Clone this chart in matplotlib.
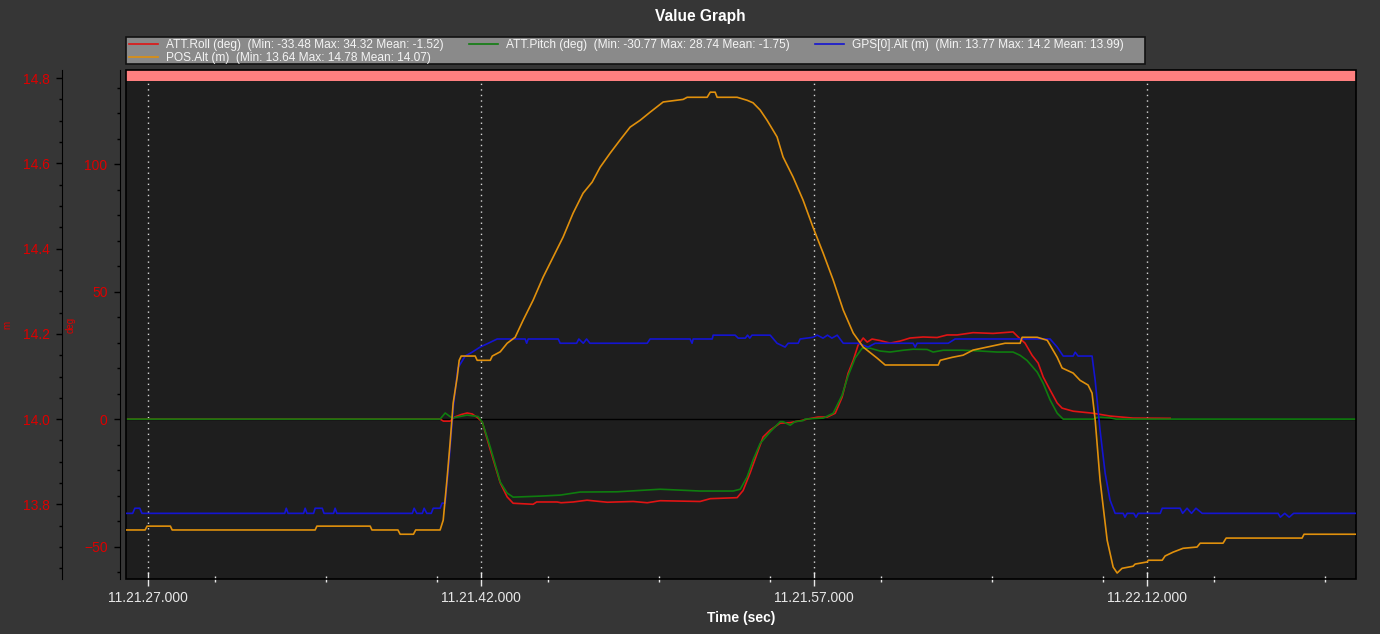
import matplotlib
matplotlib.use("Agg")
import matplotlib.pyplot as plt
from matplotlib.ticker import MultipleLocator, FuncFormatter
from matplotlib.patches import Rectangle

plt.rcParams['font.family'] = ['Liberation Sans', 'DejaVu Sans']

# ---- data (time in seconds after 11:21:00) ----
roll_t = [26.01, 40.15, 40.3, 40.6, 40.8, 41.1, 41.37, 41.6, 41.86, 42.05, 42.41, 42.86, 43.17, 43.44,
          44.34, 44.5, 45.42, 45.6, 46.14, 46.77, 47.68, 48.85, 49.48, 50.06, 51.86, 52.32, 53.53,
          53.80, 54.12, 54.43, 54.70, 55.02, 55.47, 55.92, 56.50, 56.68, 57.18, 57.59, 57.95, 58.26,
          58.53, 58.76, 58.98, 59.21, 59.39, 59.61, 59.97, 60.42, 60.87, 61.32, 61.91, 62.54, 62.99,
          63.44, 64.16, 65.06, 65.96, 66.19, 66.50, 66.82, 67.09, 67.32, 67.63, 67.95, 68.17, 68.67,
          69.57, 70.33, 71.37, 73.04]
roll_v = [0, 0, -0.8, -0.8, 0.8, 1.8, 2.4, 2.0, 0.4, -1.2, -12, -25, -30.5, -33,
          -33.4, -32.5, -32.5, -32.8, -32.5, -31.8, -32.6, -32.3, -32.8, -32.0, -32.3, -31.2, -30.8,
          -28, -21, -13.5, -7, -4.3, -1.6, -1.4, -0.4, 0, 0.8, 0.8, 2.3, 8.6,
          18, 23, 29, 31.8, 30.2, 31.4, 30.8, 29.8, 30.6, 31.8, 32.2, 32.0, 33.0,
          33.0, 33.9, 33.6, 34.2, 32.2, 29.8, 25, 22, 16.5, 11.4, 6.3, 4.3, 3.1,
          2.3, 1.2, 0.4, 0.3]

pitch_t = [26.01, 40.15, 40.38, 40.69, 40.92, 41.37, 41.86, 42.05, 42.41, 42.86, 43.17, 43.44, 44.66,
           45.56, 46.46, 48.13, 50.06, 51.86, 53.35, 53.67, 53.98, 54.25, 54.57, 55.02, 55.47, 55.60,
           55.92, 56.14, 56.50, 56.59, 57.41, 57.86, 58.26, 58.53, 58.85, 59.16, 59.52, 59.97, 60.42,
           61.01, 61.46, 62.09, 62.36, 62.81, 63.71, 64.48, 65.24, 65.96, 66.28, 66.59, 67.05, 67.32,
           67.63, 67.95, 68.17, 68.22, 69.57, 69.8, 70.33, 70.6, 81.41]
pitch_v = [0, 0, 2.4, 0.4, 0.8, 1.6, 1.0, -1.2, -11, -24.7, -29, -30.6, -30.2,
           -29.8, -28.6, -28.5, -27.5, -28.2, -28.2, -27.5, -22.7, -16, -9.5, -5, -1, -1,
           -2.4, -1.0, -0.6, 0, 0.4, 2.3, 9.4, 17, 24, 27.8, 27.8, 26.7, 26.3,
           27, 27.4, 27.3, 26.3, 27, 27, 26.7, 26.3, 26.3, 25, 23, 18.4, 14,
           7.5, 2.3, 0.4, 0, 0, 0.8, 0.5, 0, 0]

gps_t = [26.01, 26.3, 26.4, 26.62, 26.72, 33.15, 33.22, 33.3, 34.0, 34.07, 34.15, 34.45, 34.52, 34.84,
         34.92, 35.35, 35.42, 35.5, 38.9, 38.98, 39.1, 39.35, 39.43, 39.55, 39.75, 39.84, 40.15, 40.24,
         40.38, 40.55, 40.75, 40.95, 41.28, 41.59, 41.95, 42.32, 42.72, 43.98, 44.05, 44.12, 45.47,
         45.56, 46.3, 46.4, 46.6, 46.75, 46.9, 49.48, 49.61, 51.41, 51.5, 51.55, 52.41, 52.45, 53.44,
         53.58, 53.9, 54.0, 54.1, 54.2, 55.02, 55.33, 55.69, 55.83, 56.28, 56.37, 56.95, 57.14, 57.4,
         57.6, 57.8, 58.04, 58.31, 58.98, 59.43, 59.75, 61.46, 61.55, 61.64, 63.04, 63.35, 67.63,
         67.95, 68.22, 68.67, 68.76, 68.89, 69.52, 69.66, 69.88, 70.11, 70.33, 70.56, 70.92, 71.0,
         71.1, 71.4, 71.5, 71.6, 72.59, 72.68, 73.49, 73.6, 73.8, 74.0, 74.2, 74.48, 77.9, 78.0,
         78.2, 78.4, 78.6, 81.41]
gps_v = [13.779, 13.779, 13.791, 13.791, 13.779, 13.779, 13.791, 13.779, 13.779, 13.791, 13.779, 13.779, 13.791, 13.791,
         13.779, 13.779, 13.791, 13.779, 13.779, 13.791, 13.779, 13.779, 13.791, 13.779, 13.779, 13.791, 13.791, 13.803,
         13.803, 13.90, 14.03, 14.12, 14.148, 14.157, 14.169, 14.178, 14.188, 14.188, 14.178, 14.188, 14.188,
         14.178, 14.178, 14.188, 14.178, 14.188, 14.178, 14.178, 14.188, 14.188, 14.178, 14.188, 14.188, 14.197, 14.197,
         14.190, 14.190, 14.197, 14.190, 14.197, 14.197, 14.178, 14.169, 14.178, 14.178, 14.188, 14.192, 14.197, 14.190,
         14.197, 14.190, 14.197, 14.178, 14.178, 14.169, 14.178, 14.178, 14.169, 14.178, 14.178, 14.188, 14.188,
         14.169, 14.148, 14.148, 14.157, 14.148, 14.148, 14.091, 13.974, 13.873, 13.810, 13.779, 13.779, 13.770,
         13.779, 13.779, 13.770, 13.779, 13.779, 13.791, 13.791, 13.779, 13.791, 13.779, 13.791, 13.779, 13.779, 13.770,
         13.779, 13.770, 13.779, 13.779]

pos_t = [26.01, 26.86, 26.95, 28.0, 28.08, 34.52, 34.6, 37.0, 37.08, 38.25, 38.35, 38.95, 39.05, 40.15,
         40.29, 40.47, 40.60, 40.74, 40.92, 41.01, 41.10, 41.73, 41.82, 42.41, 42.50, 42.86, 43.17, 43.53,
         43.89, 44.34, 44.79, 45.24, 45.69, 46.14, 46.59, 47.0, 47.36, 47.81, 48.26, 48.71, 49.16, 49.61,
         50.20, 51.10, 51.28, 52.18, 52.32, 52.54, 52.63, 53.53, 53.98, 54.25, 54.57, 54.88, 55.33, 55.60,
         56.05, 56.50, 56.95, 57.41, 57.86, 58.31, 58.76, 59.21, 59.84, 60.20, 62.59, 62.68, 63.22, 63.71,
         64.16, 64.61, 65.60, 66.28, 66.37, 67.05, 67.50, 67.95, 68.17, 68.67, 68.98, 69.34, 69.52, 69.66,
         69.88, 70.20, 70.47, 70.65, 70.87, 71.37, 71.46, 72.0, 72.05, 72.68, 72.81, 73.17, 73.62, 74.25,
         74.39, 75.42, 75.56, 78.98, 79.07, 81.41]
pos_v = [13.740, 13.740, 13.749, 13.749, 13.740, 13.740, 13.749, 13.749, 13.740, 13.740, 13.730, 13.730, 13.740, 13.740,
         13.763, 13.864, 13.944, 14.038, 14.099, 14.138, 14.148, 14.148, 14.138, 14.138, 14.148, 14.158, 14.178, 14.192,
         14.232, 14.279, 14.333, 14.380, 14.427, 14.483, 14.530, 14.556, 14.591, 14.624, 14.655, 14.685, 14.701, 14.720,
         14.744, 14.750, 14.755, 14.755, 14.767, 14.767, 14.755, 14.755, 14.748, 14.742, 14.725, 14.701, 14.662, 14.615,
         14.568, 14.514, 14.450, 14.389, 14.326, 14.256, 14.202, 14.169, 14.143, 14.127, 14.127, 14.138, 14.145, 14.150,
         14.162, 14.167, 14.178, 14.178, 14.192, 14.192, 14.185, 14.145, 14.120, 14.108, 14.091, 14.080, 14.061, 13.998,
         13.857, 13.716, 13.653, 13.639, 13.650, 13.655, 13.660, 13.665, 13.669, 13.669, 13.679, 13.688, 13.697, 13.700,
         13.709, 13.709, 13.721, 13.721, 13.730, 13.730]

labels = ["ATT.Roll (deg)  (Min: -33.48 Max: 34.32 Mean: -1.52)",
          "ATT.Pitch (deg)  (Min: -30.77 Max: 28.74 Mean: -1.75)",
          "GPS[0].Alt (m)  (Min: 13.77 Max: 14.2 Mean: 13.99)",
          "POS.Alt (m)  (Min: 13.64 Max: 14.78 Mean: 14.07)"]
colors = ['#e01414', '#0f7d0f', '#1414d2', '#e0900c']

major_ticks = [27, 42, 57, 72]
x_range = (26.0, 81.41)
deg_range = (-62.7, 136.9)
m_range = (13.625, 14.819)

BG = '#363636'
fig = plt.figure(figsize=(13.8, 6.34), dpi=100, facecolor=BG)
ax = fig.add_axes([126/1380, 1-579/634, (1356-126)/1380, (579-70)/634])
ax.set_facecolor('#1e1e1e')
ax2 = ax.twinx()

ax.set_xlim(*x_range)
ax.set_ylim(*deg_range)
ax2.set_ylim(*m_range)

# pink band at top
ax.axhspan(deg_range[1] - (deg_range[1]-deg_range[0])*11/509, deg_range[1], color='#ff8080', zorder=2.5, lw=0)

# grid
ax.xaxis.set_major_locator(plt.FixedLocator(major_ticks))
ax.xaxis.set_minor_locator(MultipleLocator(5))
ax.grid(True, axis='x', which='major', color='#d8d8d8', linestyle=(0, (1, 3)), lw=1.0, zorder=1)
ax.axhline(0, color='black', lw=1.0, zorder=2)

l1, = ax.plot(roll_t, roll_v, color=colors[0], lw=1.2, zorder=3)
l2, = ax.plot(pitch_t, pitch_v, color=colors[1], lw=1.2, zorder=3)
l3, = ax2.plot(gps_t, gps_v, color=colors[2], lw=1.2, zorder=3)
l4, = ax2.plot(pos_t, pos_v, color=colors[3], lw=1.2, zorder=4)

def fmt_time(v, pos=None):
    total = int(round(v))
    h = 11
    m = 21 + total // 60
    s = total % 60
    if m >= 60:
        h += 1
        m -= 60
    return f"{h:02d}.{m:02d}.{s:02d}.000"
ax.xaxis.set_major_formatter(FuncFormatter(fmt_time))

# spines
for a in (ax, ax2):
    for s in a.spines.values():
        s.set_visible(False)
ax.spines['left'].set_visible(True)
ax.spines['left'].set_position(('outward', 4.3))
ax.spines['left'].set_color('black')
ax2.spines['left'].set_visible(True)
ax2.spines['left'].set_position(('outward', 46))
ax2.spines['left'].set_color('black')
ax2.yaxis.set_ticks_position('left')
ax2.yaxis.set_label_position('left')

# frame around plot
ax.add_patch(Rectangle((0, 0), 1, 1, transform=ax.transAxes, fill=False, edgecolor='black', lw=1.2,
                       zorder=6, clip_on=False))

ax.yaxis.set_major_locator(MultipleLocator(50))
ax.yaxis.set_minor_locator(MultipleLocator(10))
ax2.yaxis.set_major_locator(MultipleLocator(0.2))
ax2.yaxis.set_minor_locator(MultipleLocator(0.05))
ax2.yaxis.set_major_formatter(FuncFormatter(lambda v, p: f"{v:.1f}"))

ax.tick_params(axis='y', which='major', length=4, width=1, color='black', labelcolor='#dd0000', labelsize=10, pad=5)
ax.tick_params(axis='y', which='minor', length=2.5, width=1, color='black')
ax2.tick_params(axis='y', which='major', length=4, width=1, color='black', labelcolor='#dd0000', labelsize=10, pad=5)
ax2.tick_params(axis='y', which='minor', length=2.5, width=1, color='black')
ax.tick_params(axis='x', which='major', direction='inout', length=10, width=1, color='#e8e8e8',
               labelcolor='#e8e8e8', labelsize=10, pad=4)
ax.tick_params(axis='x', which='minor', direction='inout', length=4, width=1, color='#e8e8e8')

ax2.set_ylabel('m', color='#dd0000', fontsize=7)
ax.set_ylabel('deg', color='#dd0000', fontsize=7)
ax2.yaxis.set_label_coords(-114/1230, 0.5)
ax.yaxis.set_label_coords(-50/1230, 0.5)
ax.set_xlabel('Time (sec)', color='white', fontsize=10, fontweight='bold', labelpad=4)

fig.text(700/1380, 1-16/634, 'Value Graph', color='white', fontsize=11.2, fontweight='bold',
         ha='center', va='center')

# legend box
fig.patches.append(Rectangle((126/1380, 1-64/634), (1145-126)/1380, 27/634, transform=fig.transFigure,
                             facecolor='#8a8a8a', edgecolor='#111111', lw=1.2, zorder=0))
leg = fig.legend([l1, l4, l2, l3], [labels[0], labels[3], labels[1], labels[2]], ncol=3,
                 loc='upper left', bbox_to_anchor=(127/1380, 1-37/634),
                 borderaxespad=0, fontsize=8.6, frameon=False, handlelength=2.4,
                 handletextpad=0.67, labelspacing=0.05, borderpad=0.2, columnspacing=2.15)
for t in leg.get_texts():
    t.set_color('#f4f4f4')

fig.savefig('out.png', dpi=100, facecolor=BG)
